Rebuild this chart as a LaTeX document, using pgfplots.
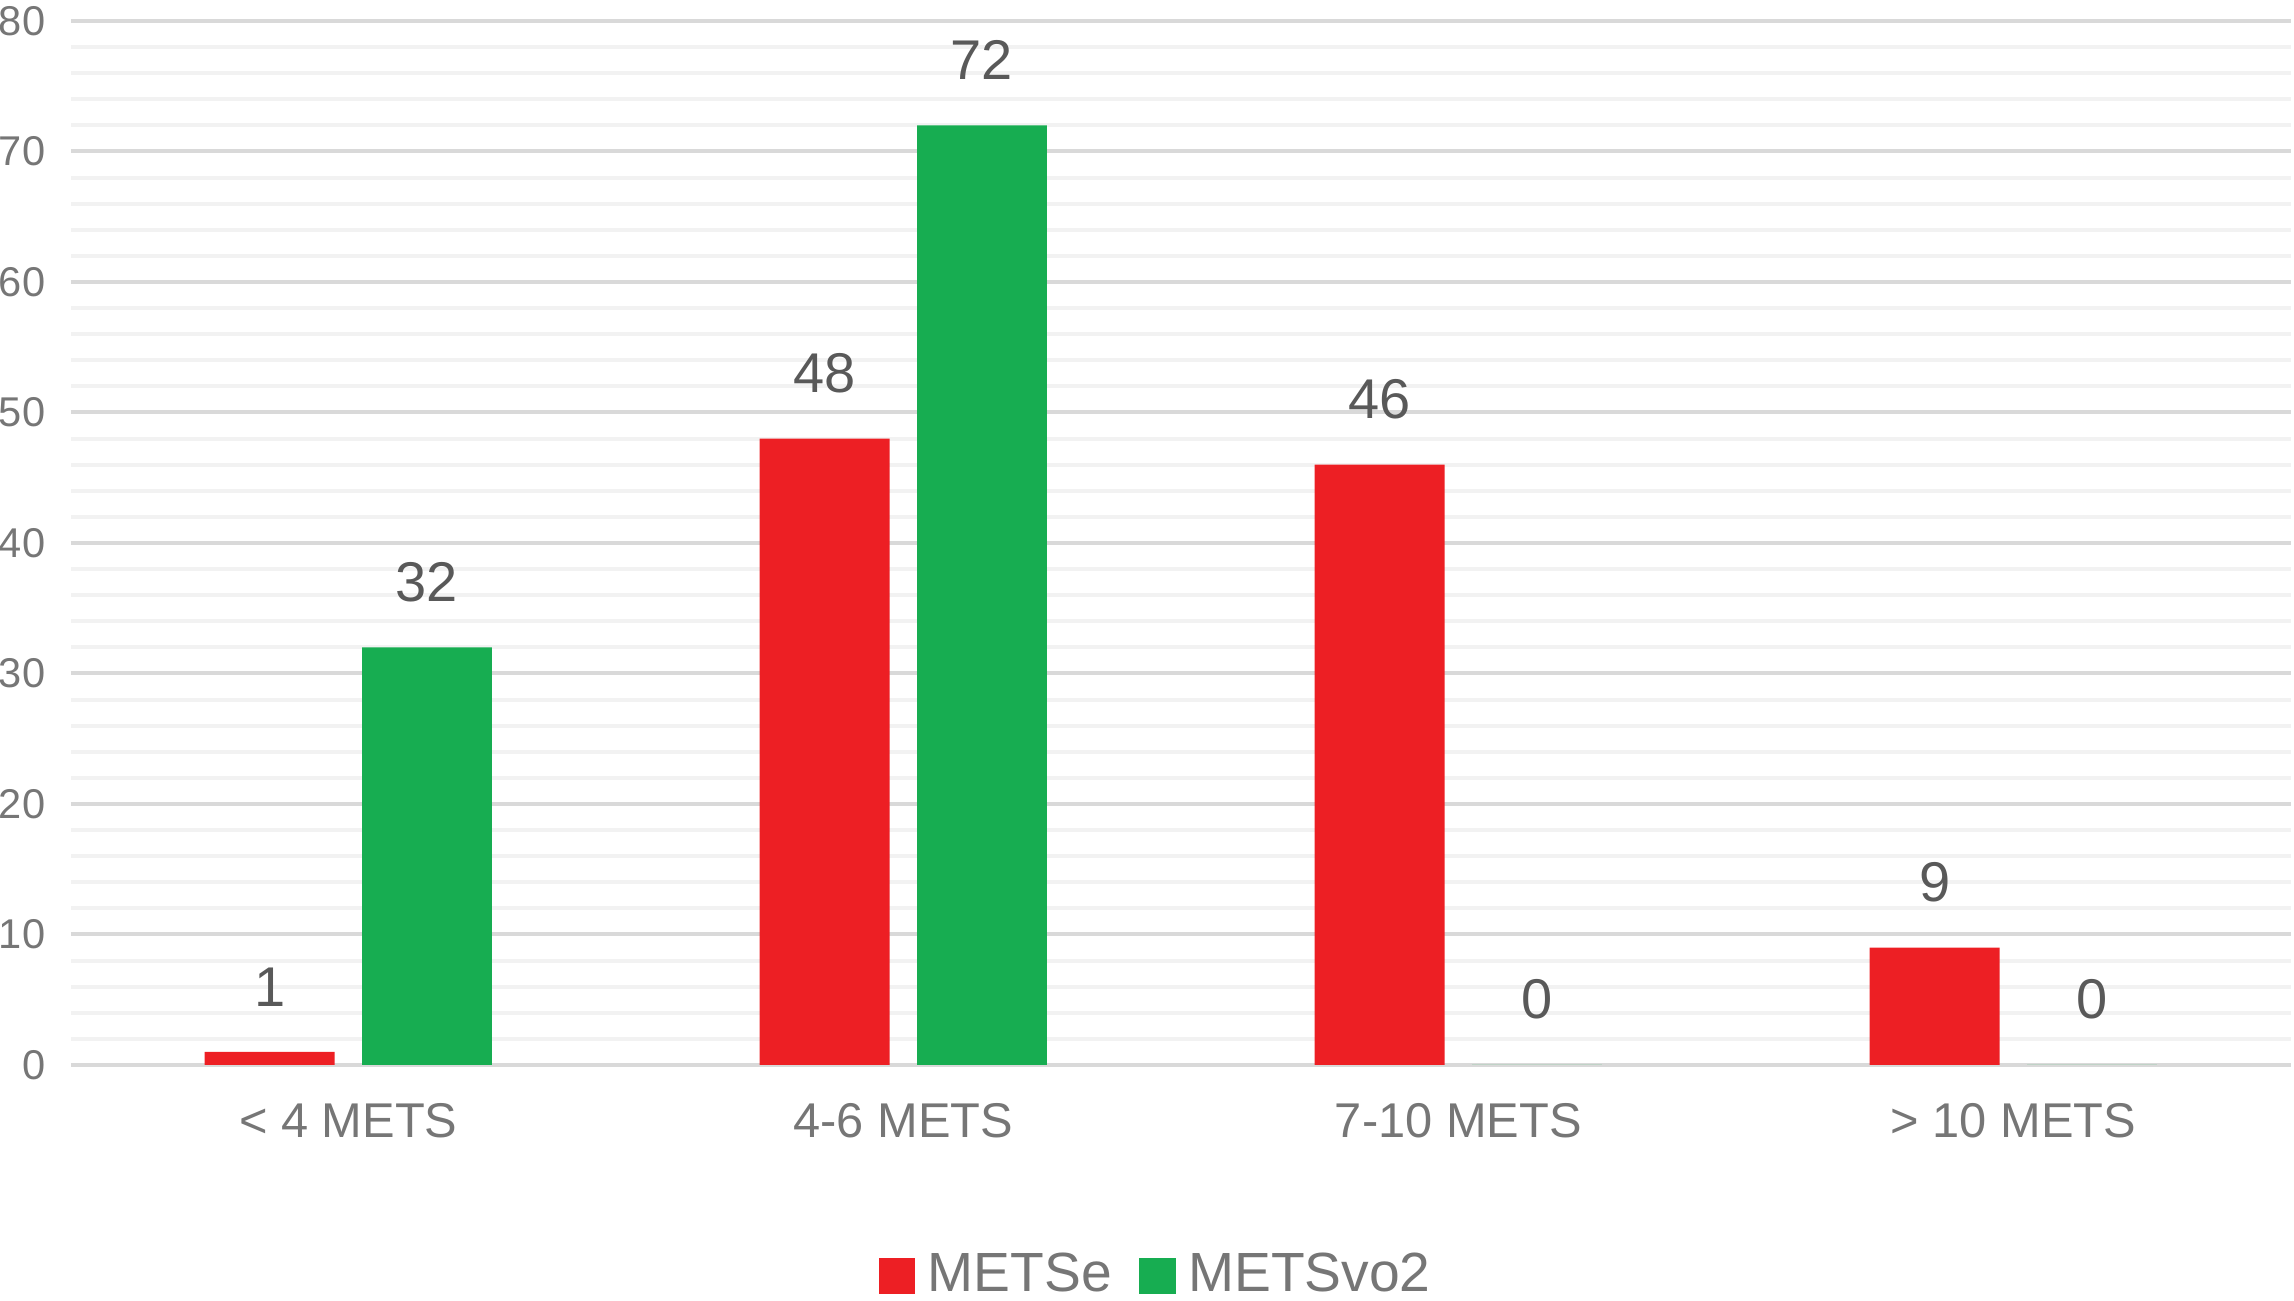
\documentclass[border=0pt]{standalone}
\usepackage{fontspec}
\setmainfont{Liberation Sans}
\usepackage{pgfplots}
\pgfplotsset{compat=1.18}

\definecolor{metse}{RGB}{237,31,36}
\definecolor{metsvo}{RGB}{23,173,81}
\definecolor{txt}{RGB}{118,118,118}
\definecolor{lbl}{RGB}{89,89,89}
\definecolor{gmaj}{RGB}{217,217,217}
\definecolor{gmin}{RGB}{242,242,242}

\begin{document}
\begin{tikzpicture}
\useasboundingbox (-17.7pt,-59pt) rectangle (555.8pt,266.25pt);
\begin{axis}[
    at={(0,0)}, anchor=south west,
    scale only axis,
    width=555pt, height=261pt,
    ybar, bar width=0.234,
    xmin=-0.5, xmax=3.5,
    ymin=0, ymax=80,
    xtick={0,1,2,3},
    xticklabels={{< 4 METS},{4-6 METS},{7-10 METS},{> 10 METS}},
    ytick={0,10,...,80},
    minor ytick={2,4,...,78},
    ymajorgrids, yminorgrids,
    major grid style={gmaj, line width=1pt},
    minor grid style={gmin, line width=1pt},
    axis line style={draw=none},
    major tick length=0pt, minor tick length=0pt,
    tick style={draw=none},
    /pgf/number format/assume math mode=true,
    yticklabel style={font=\fontsize{10.4}{12}\selectfont, text=txt,
        anchor=east, inner sep=0pt, xshift=-6.2pt},
    xticklabel style={font=\fontsize{12.2}{14}\selectfont, text=txt,
        anchor=north, inner sep=0pt, yshift=-9.5pt},
    nodes near coords,
    nodes near coords style={font=\fontsize{14}{16}\selectfont, text=lbl,
        anchor=south, inner sep=0pt, yshift=11.25pt},
    legend style={at={(0.49,-0.201)}, anchor=center, draw=none,
        legend columns=2, font=\fontsize{13.8}{16}\selectfont, text=txt,
        /tikz/every odd column/.append style={column sep=1.1pt},
        /tikz/every even column/.append style={column sep=4.8pt}},
    legend image code/.code={\fill[#1] (0pt,-4.9pt) rectangle (9.2pt,4.3pt);},
]

% METSe
\addplot[fill=metse, draw=none, bar shift=-0.1418] coordinates {
    (0,1) (1,48) (2,46) (3,9)
};
\addlegendentry{METSe}

% METSvo2
\addplot[fill=metsvo, draw=none, bar shift=0.1418] coordinates {
    (0,32) (1,72) (2,0) (3,0)
};
\addlegendentry{METSvo2}

\end{axis}
\end{tikzpicture}
\end{document}
